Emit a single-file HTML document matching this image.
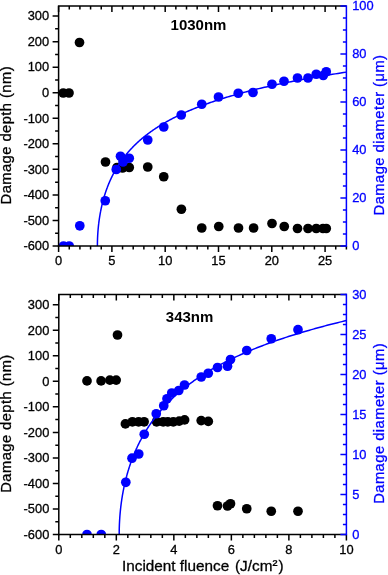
<!DOCTYPE html>
<html><head><meta charset="utf-8"><title>Damage depth and diameter vs incident fluence</title>
<style>html,body{margin:0;padding:0;background:#fff}svg{display:block}text{font-family:"Liberation Sans", Arial, sans-serif;stroke-width:0.3px;paint-order:stroke}</style></head><body>
<svg width="388" height="575" viewBox="0 0 388 575">
<rect width="388" height="575" fill="#fff"/>
<filter id="soft" x="0" y="0" width="388" height="575" filterUnits="userSpaceOnUse"><feGaussianBlur stdDeviation="0.4"/></filter>
<g filter="url(#soft)">
<clipPath id="ct"><rect x="58.60" y="6.10" width="287.80" height="239.90"/></clipPath>
<g fill="#000" clip-path="url(#ct)">
<circle cx="63.25" cy="93.00" r="4.85"/>
<circle cx="69.00" cy="93.00" r="4.85"/>
<circle cx="79.50" cy="42.50" r="4.85"/>
<circle cx="105.50" cy="162.00" r="4.85"/>
<circle cx="117.00" cy="167.50" r="4.85"/>
<circle cx="122.50" cy="168.00" r="4.85"/>
<circle cx="129.25" cy="167.50" r="4.85"/>
<circle cx="147.75" cy="167.00" r="4.85"/>
<circle cx="163.75" cy="176.75" r="4.85"/>
<circle cx="181.40" cy="209.25" r="4.85"/>
<circle cx="201.75" cy="228.00" r="4.85"/>
<circle cx="218.75" cy="226.50" r="4.85"/>
<circle cx="238.50" cy="228.00" r="4.85"/>
<circle cx="253.60" cy="228.00" r="4.85"/>
<circle cx="272.00" cy="223.50" r="4.85"/>
<circle cx="284.25" cy="226.50" r="4.85"/>
<circle cx="297.50" cy="228.50" r="4.85"/>
<circle cx="308.00" cy="228.50" r="4.85"/>
<circle cx="316.25" cy="228.50" r="4.85"/>
<circle cx="323.00" cy="228.50" r="4.85"/>
<circle cx="326.25" cy="228.50" r="4.85"/>
</g>
<path d="M97.40 246.00 L97.40 245.57 L97.40 245.13 L97.40 244.70 L97.41 244.26 L97.41 243.83 L97.42 243.39 L97.42 242.96 L97.43 242.52 L97.44 242.09 L97.45 241.65 L97.46 241.22 L97.47 240.78 L97.48 240.35 L97.50 239.91 L97.51 239.48 L97.52 239.05 L97.54 238.61 L97.56 238.18 L97.58 237.74 L97.59 237.31 L97.61 236.87 L97.64 236.44 L97.66 236.00 L97.68 235.57 L97.70 235.13 L97.73 234.70 L97.76 234.26 L97.78 233.83 L97.81 233.39 L97.84 232.96 L97.87 232.52 L97.90 232.09 L97.93 231.66 L97.97 231.22 L98.00 230.79 L98.03 230.35 L98.07 229.92 L98.11 229.48 L98.15 229.05 L98.19 228.61 L98.23 228.18 L98.27 227.74 L98.31 227.31 L98.35 226.87 L98.40 226.44 L98.44 226.00 L98.49 225.57 L98.54 225.14 L98.58 224.70 L98.63 224.27 L98.68 223.83 L98.74 223.40 L98.79 222.96 L98.84 222.53 L98.90 222.09 L98.95 221.66 L99.01 221.22 L99.07 220.79 L99.13 220.35 L99.19 219.92 L99.25 219.48 L99.31 219.05 L99.38 218.61 L99.44 218.18 L99.51 217.75 L99.58 217.31 L99.64 216.88 L99.71 216.44 L99.78 216.01 L99.86 215.57 L99.93 215.14 L100.00 214.70 L100.08 214.27 L100.15 213.83 L100.23 213.40 L100.31 212.96 L100.39 212.53 L100.47 212.09 L100.55 211.66 L100.64 211.23 L100.72 210.79 L100.81 210.36 L100.90 209.92 L100.98 209.49 L101.07 209.05 L101.17 208.62 L101.26 208.18 L101.35 207.75 L101.45 207.31 L101.54 206.88 L101.64 206.44 L101.74 206.01 L101.84 205.57 L101.94 205.14 L102.04 204.71 L102.15 204.27 L102.25 203.84 L102.36 203.40 L102.47 202.97 L102.58 202.53 L102.69 202.10 L102.80 201.66 L102.91 201.23 L103.03 200.79 L103.14 200.36 L103.26 199.92 L103.38 199.49 L103.50 199.05 L103.62 198.62 L103.75 198.18 L103.87 197.75 L104.00 197.32 L104.13 196.88 L104.26 196.45 L104.39 196.01 L104.52 195.58 L104.66 195.14 L104.79 194.71 L104.93 194.27 L105.07 193.84 L105.21 193.40 L105.35 192.97 L105.49 192.53 L105.64 192.10 L105.79 191.66 L105.93 191.23 L106.08 190.80 L106.24 190.36 L106.39 189.93 L106.55 189.49 L106.70 189.06 L106.86 188.62 L107.02 188.19 L107.18 187.75 L107.35 187.32 L107.51 186.88 L107.68 186.45 L107.85 186.01 L108.02 185.58 L108.19 185.14 L108.37 184.71 L108.55 184.27 L108.72 183.84 L108.91 183.41 L109.09 182.97 L109.27 182.54 L109.46 182.10 L109.65 181.67 L109.84 181.23 L110.03 180.80 L110.22 180.36 L110.42 179.93 L110.62 179.49 L110.82 179.06 L111.02 178.62 L111.23 178.19 L111.43 177.75 L111.64 177.32 L111.85 176.89 L112.07 176.45 L112.28 176.02 L112.50 175.58 L112.72 175.15 L112.94 174.71 L113.16 174.28 L113.39 173.84 L113.62 173.41 L113.85 172.97 L114.09 172.54 L114.32 172.10 L114.56 171.67 L114.80 171.23 L115.04 170.80 L115.29 170.37 L115.54 169.93 L115.79 169.50 L116.04 169.06 L116.30 168.63 L116.56 168.19 L116.82 167.76 L117.08 167.32 L117.35 166.89 L117.62 166.45 L117.89 166.02 L118.16 165.58 L118.44 165.15 L118.72 164.71 L119.00 164.28 L119.29 163.84 L119.58 163.41 L119.87 162.98 L120.17 162.54 L120.46 162.11 L120.76 161.67 L121.07 161.24 L121.37 160.80 L121.68 160.37 L122.00 159.93 L122.31 159.50 L122.63 159.06 L122.95 158.63 L123.28 158.19 L123.61 157.76 L123.94 157.32 L124.28 156.89 L124.62 156.46 L124.96 156.02 L125.30 155.59 L125.65 155.15 L126.01 154.72 L126.36 154.28 L126.72 153.85 L127.09 153.41 L127.45 152.98 L127.82 152.54 L128.20 152.11 L128.58 151.67 L128.96 151.24 L129.34 150.80 L129.73 150.37 L130.13 149.93 L130.53 149.50 L130.93 149.07 L131.33 148.63 L131.75 148.20 L132.16 147.76 L132.58 147.33 L133.00 146.89 L133.43 146.46 L133.86 146.02 L134.29 145.59 L134.74 145.15 L135.18 144.72 L135.63 144.28 L136.08 143.85 L136.54 143.41 L137.00 142.98 L137.47 142.55 L137.94 142.11 L138.42 141.68 L138.90 141.24 L139.39 140.81 L139.88 140.37 L140.38 139.94 L140.88 139.50 L141.39 139.07 L141.90 138.63 L142.42 138.20 L142.95 137.76 L143.47 137.33 L144.01 136.89 L144.55 136.46 L145.09 136.03 L145.64 135.59 L146.20 135.16 L146.76 134.72 L147.33 134.29 L147.91 133.85 L148.49 133.42 L149.07 132.98 L149.66 132.55 L150.26 132.11 L150.87 131.68 L151.48 131.24 L152.10 130.81 L152.72 130.37 L153.35 129.94 L153.99 129.50 L154.63 129.07 L155.28 128.64 L155.94 128.20 L156.60 127.77 L157.27 127.33 L157.95 126.90 L158.64 126.46 L159.33 126.03 L160.03 125.59 L160.74 125.16 L161.45 124.72 L162.18 124.29 L162.91 123.85 L163.64 123.42 L164.39 122.98 L165.14 122.55 L165.91 122.12 L166.68 121.68 L167.45 121.25 L168.24 120.81 L169.04 120.38 L169.84 119.94 L170.65 119.51 L171.47 119.07 L172.30 118.64 L173.14 118.20 L173.99 117.77 L174.85 117.33 L175.71 116.90 L176.59 116.46 L177.48 116.03 L178.37 115.59 L179.28 115.16 L180.19 114.73 L181.12 114.29 L182.05 113.86 L183.00 113.42 L183.95 112.99 L184.92 112.55 L185.89 112.12 L186.88 111.68 L187.88 111.25 L188.89 110.81 L189.91 110.38 L190.94 109.94 L191.98 109.51 L193.04 109.07 L194.11 108.64 L195.18 108.21 L196.28 107.77 L197.38 107.34 L198.49 106.90 L199.62 106.47 L200.76 106.03 L201.91 105.60 L203.08 105.16 L204.26 104.73 L205.45 104.29 L206.66 103.86 L207.88 103.42 L209.11 102.99 L210.36 102.55 L211.62 102.12 L212.90 101.69 L214.19 101.25 L215.49 100.82 L216.81 100.38 L218.15 99.95 L219.50 99.51 L220.86 99.08 L222.24 98.64 L223.64 98.21 L225.06 97.77 L226.49 97.34 L227.93 96.90 L229.39 96.47 L230.87 96.03 L232.37 95.60 L233.89 95.16 L235.42 94.73 L236.97 94.30 L238.54 93.86 L240.12 93.43 L241.73 92.99 L243.35 92.56 L245.00 92.12 L246.66 91.69 L248.34 91.25 L250.04 90.82 L251.77 90.38 L253.51 89.95 L255.27 89.51 L257.06 89.08 L258.86 88.64 L260.69 88.21 L262.54 87.78 L264.41 87.34 L266.30 86.91 L268.21 86.47 L270.15 86.04 L272.11 85.60 L274.10 85.17 L276.11 84.73 L278.14 84.30 L280.20 83.86 L282.28 83.43 L284.39 82.99 L286.53 82.56 L288.68 82.12 L290.87 81.69 L293.08 81.25 L295.32 80.82 L297.59 80.39 L299.88 79.95 L302.21 79.52 L304.56 79.08 L306.94 78.65 L309.35 78.21 L311.79 77.78 L314.26 77.34 L316.76 76.91 L319.29 76.47 L321.85 76.04 L324.44 75.60 L327.07 75.17 L329.73 74.73 L332.42 74.30 L335.15 73.87 L337.91 73.43 L340.70 73.00 L343.53 72.56 L346.40 72.13" fill="none" stroke="#0000ff" stroke-width="1.5" stroke-linejoin="round"/>
<g fill="#0000ff" clip-path="url(#ct)">
<circle cx="63.50" cy="246.00" r="4.85"/>
<circle cx="69.20" cy="246.00" r="4.85"/>
<circle cx="79.80" cy="225.80" r="4.85"/>
<circle cx="105.25" cy="200.75" r="4.85"/>
<circle cx="116.25" cy="169.50" r="4.85"/>
<circle cx="120.50" cy="156.25" r="4.85"/>
<circle cx="123.00" cy="162.00" r="4.85"/>
<circle cx="129.25" cy="158.25" r="4.85"/>
<circle cx="147.75" cy="140.00" r="4.85"/>
<circle cx="163.75" cy="127.00" r="4.85"/>
<circle cx="181.25" cy="115.00" r="4.85"/>
<circle cx="201.75" cy="104.25" r="4.85"/>
<circle cx="218.50" cy="97.00" r="4.85"/>
<circle cx="238.25" cy="93.25" r="4.85"/>
<circle cx="253.00" cy="92.50" r="4.85"/>
<circle cx="272.00" cy="84.25" r="4.85"/>
<circle cx="284.00" cy="81.25" r="4.85"/>
<circle cx="297.50" cy="78.00" r="4.85"/>
<circle cx="308.00" cy="78.00" r="4.85"/>
<circle cx="316.25" cy="74.25" r="4.85"/>
<circle cx="323.25" cy="75.50" r="4.85"/>
<circle cx="326.25" cy="71.75" r="4.85"/>
</g>
<g stroke="#000" stroke-width="1.50" fill="none" stroke-linecap="butt">
<path d="M58.60 246.75 V6.10 H346.40"/>
<path d="M57.85 246.00 H346.40"/>
<path d="M58.60 6.10 v6.00 M58.60 246.00 v6.00 M69.26 6.10 v3.50 M69.26 246.00 v3.50 M79.92 6.10 v3.50 M79.92 246.00 v3.50 M90.58 6.10 v3.50 M90.58 246.00 v3.50 M101.24 6.10 v3.50 M101.24 246.00 v3.50 M111.90 6.10 v6.00 M111.90 246.00 v6.00 M122.56 6.10 v3.50 M122.56 246.00 v3.50 M133.21 6.10 v3.50 M133.21 246.00 v3.50 M143.87 6.10 v3.50 M143.87 246.00 v3.50 M154.53 6.10 v3.50 M154.53 246.00 v3.50 M165.19 6.10 v6.00 M165.19 246.00 v6.00 M175.85 6.10 v3.50 M175.85 246.00 v3.50 M186.51 6.10 v3.50 M186.51 246.00 v3.50 M197.17 6.10 v3.50 M197.17 246.00 v3.50 M207.83 6.10 v3.50 M207.83 246.00 v3.50 M218.49 6.10 v6.00 M218.49 246.00 v6.00 M229.15 6.10 v3.50 M229.15 246.00 v3.50 M239.81 6.10 v3.50 M239.81 246.00 v3.50 M250.47 6.10 v3.50 M250.47 246.00 v3.50 M261.13 6.10 v3.50 M261.13 246.00 v3.50 M271.79 6.10 v6.00 M271.79 246.00 v6.00 M282.44 6.10 v3.50 M282.44 246.00 v3.50 M293.10 6.10 v3.50 M293.10 246.00 v3.50 M303.76 6.10 v3.50 M303.76 246.00 v3.50 M314.42 6.10 v3.50 M314.42 246.00 v3.50 M325.08 6.10 v6.00 M325.08 246.00 v6.00 M335.74 6.10 v3.50 M335.74 246.00 v3.50 M346.40 246.00 v3.50 M58.60 246.00 h-6.00 M58.60 233.23 h-3.50 M58.60 220.46 h-6.00 M58.60 207.68 h-3.50 M58.60 194.91 h-6.00 M58.60 182.14 h-3.50 M58.60 169.37 h-6.00 M58.60 156.59 h-3.50 M58.60 143.82 h-6.00 M58.60 131.05 h-3.50 M58.60 118.28 h-6.00 M58.60 105.51 h-3.50 M58.60 92.73 h-6.00 M58.60 79.96 h-3.50 M58.60 67.19 h-6.00 M58.60 54.42 h-3.50 M58.60 41.64 h-6.00 M58.60 28.87 h-3.50 M58.60 16.10 h-6.00"/>
</g>
<g stroke="#0000ff" stroke-width="1.50" fill="none">
<path d="M346.40 5.35 V246.75"/>
<path d="M346.40 246.00 h-6.00 M346.40 234.00 h-3.50 M346.40 222.01 h-3.50 M346.40 210.01 h-3.50 M346.40 198.02 h-6.00 M346.40 186.03 h-3.50 M346.40 174.03 h-3.50 M346.40 162.03 h-3.50 M346.40 150.04 h-6.00 M346.40 138.05 h-3.50 M346.40 126.05 h-3.50 M346.40 114.06 h-3.50 M346.40 102.06 h-6.00 M346.40 90.06 h-3.50 M346.40 78.07 h-3.50 M346.40 66.07 h-3.50 M346.40 54.08 h-6.00 M346.40 42.09 h-3.50 M346.40 30.09 h-3.50 M346.40 18.09 h-3.50 M346.40 6.10 h-6.00"/>
</g>
<g font-size="12.85" fill="#000" stroke="#000" text-anchor="end">
<text x="49.10" y="250.30">-600</text>
<text x="49.10" y="224.76">-500</text>
<text x="49.10" y="199.21">-400</text>
<text x="49.10" y="173.67">-300</text>
<text x="49.10" y="148.12">-200</text>
<text x="49.10" y="122.58">-100</text>
<text x="49.10" y="97.03">0</text>
<text x="49.10" y="71.49">100</text>
<text x="49.10" y="45.94">200</text>
<text x="49.10" y="20.40">300</text>
</g>
<g font-size="12.85" fill="#000" stroke="#000" text-anchor="middle">
<text x="58.60" y="265.20">0</text>
<text x="111.90" y="265.20">5</text>
<text x="165.19" y="265.20">10</text>
<text x="218.49" y="265.20">15</text>
<text x="271.79" y="265.20">20</text>
<text x="325.08" y="265.20">25</text>
</g>
<g font-size="12.85" fill="#0000ff" stroke="#0000ff" text-anchor="start">
<text x="352.20" y="250.30">0</text>
<text x="352.20" y="202.32">20</text>
<text x="352.20" y="154.34">40</text>
<text x="352.20" y="106.36">60</text>
<text x="352.20" y="58.38">80</text>
<text x="352.20" y="10.40">100</text>
</g>
<text x="198.50" y="29.80" font-size="15" font-weight="bold" fill="#000" text-anchor="middle">1030nm</text>
<text transform="translate(11.40 135.20) rotate(-90)" font-size="14.7" letter-spacing="0.46" fill="#000" stroke="#000" text-anchor="middle">Damage depth (nm)</text>
<text transform="translate(384.10 135.00) rotate(-90)" font-size="14.75" letter-spacing="0.45" fill="#0000ff" stroke="#0000ff" text-anchor="middle">Damage diameter (μm)</text>
<clipPath id="cb"><rect x="58.80" y="294.40" width="287.60" height="240.10"/></clipPath>
<g fill="#000" clip-path="url(#cb)">
<circle cx="87.00" cy="380.90" r="4.85"/>
<circle cx="101.10" cy="380.90" r="4.85"/>
<circle cx="109.90" cy="380.10" r="4.85"/>
<circle cx="116.20" cy="380.10" r="4.85"/>
<circle cx="117.50" cy="335.00" r="4.85"/>
<circle cx="125.40" cy="423.90" r="4.85"/>
<circle cx="132.40" cy="421.80" r="4.85"/>
<circle cx="138.60" cy="421.80" r="4.85"/>
<circle cx="144.10" cy="421.80" r="4.85"/>
<circle cx="156.60" cy="421.80" r="4.85"/>
<circle cx="163.20" cy="421.80" r="4.85"/>
<circle cx="167.80" cy="421.80" r="4.85"/>
<circle cx="173.30" cy="421.80" r="4.85"/>
<circle cx="179.20" cy="421.10" r="4.85"/>
<circle cx="184.60" cy="419.90" r="4.85"/>
<circle cx="201.20" cy="420.60" r="4.85"/>
<circle cx="208.30" cy="421.40" r="4.85"/>
<circle cx="217.50" cy="505.75" r="4.85"/>
<circle cx="227.50" cy="506.00" r="4.85"/>
<circle cx="230.50" cy="503.75" r="4.85"/>
<circle cx="246.75" cy="508.75" r="4.85"/>
<circle cx="271.25" cy="511.25" r="4.85"/>
<circle cx="298.00" cy="511.25" r="4.85"/>
</g>
<path d="M119.20 534.50 L119.20 533.97 L119.20 533.43 L119.20 532.90 L119.21 532.36 L119.21 531.83 L119.22 531.29 L119.22 530.76 L119.23 530.22 L119.24 529.69 L119.25 529.15 L119.27 528.62 L119.28 528.08 L119.30 527.55 L119.31 527.01 L119.33 526.48 L119.35 525.94 L119.37 525.41 L119.39 524.87 L119.41 524.34 L119.43 523.80 L119.46 523.27 L119.48 522.73 L119.51 522.20 L119.54 521.66 L119.57 521.13 L119.60 520.59 L119.63 520.06 L119.66 519.52 L119.69 518.99 L119.73 518.45 L119.76 517.92 L119.80 517.38 L119.84 516.85 L119.88 516.31 L119.92 515.78 L119.96 515.24 L120.01 514.71 L120.05 514.17 L120.10 513.64 L120.15 513.10 L120.19 512.57 L120.24 512.03 L120.30 511.50 L120.35 510.96 L120.40 510.43 L120.46 509.89 L120.51 509.36 L120.57 508.82 L120.63 508.29 L120.69 507.75 L120.75 507.22 L120.81 506.68 L120.87 506.15 L120.94 505.62 L121.00 505.08 L121.07 504.55 L121.14 504.01 L121.21 503.48 L121.28 502.94 L121.35 502.41 L121.43 501.87 L121.50 501.34 L121.58 500.80 L121.66 500.27 L121.74 499.73 L121.82 499.20 L121.90 498.66 L121.98 498.13 L122.07 497.59 L122.15 497.06 L122.24 496.52 L122.33 495.99 L122.42 495.45 L122.51 494.92 L122.60 494.38 L122.70 493.85 L122.79 493.31 L122.89 492.78 L122.99 492.24 L123.09 491.71 L123.19 491.17 L123.29 490.64 L123.39 490.10 L123.50 489.57 L123.61 489.03 L123.71 488.50 L123.82 487.96 L123.93 487.43 L124.05 486.89 L124.16 486.36 L124.28 485.82 L124.39 485.29 L124.51 484.75 L124.63 484.22 L124.75 483.68 L124.88 483.15 L125.00 482.61 L125.13 482.08 L125.25 481.54 L125.38 481.01 L125.51 480.47 L125.65 479.94 L125.78 479.40 L125.92 478.87 L126.05 478.33 L126.19 477.80 L126.33 477.27 L126.47 476.73 L126.62 476.20 L126.76 475.66 L126.91 475.13 L127.06 474.59 L127.21 474.06 L127.36 473.52 L127.51 472.99 L127.67 472.45 L127.82 471.92 L127.98 471.38 L128.14 470.85 L128.30 470.31 L128.47 469.78 L128.63 469.24 L128.80 468.71 L128.97 468.17 L129.14 467.64 L129.31 467.10 L129.49 466.57 L129.66 466.03 L129.84 465.50 L130.02 464.96 L130.20 464.43 L130.38 463.89 L130.57 463.36 L130.76 462.82 L130.95 462.29 L131.14 461.75 L131.33 461.22 L131.52 460.68 L131.72 460.15 L131.92 459.61 L132.12 459.08 L132.32 458.54 L132.53 458.01 L132.73 457.47 L132.94 456.94 L133.15 456.40 L133.37 455.87 L133.58 455.33 L133.80 454.80 L134.02 454.26 L134.24 453.73 L134.46 453.19 L134.69 452.66 L134.92 452.12 L135.15 451.59 L135.38 451.05 L135.61 450.52 L135.85 449.98 L136.09 449.45 L136.33 448.92 L136.57 448.38 L136.82 447.85 L137.06 447.31 L137.31 446.78 L137.57 446.24 L137.82 445.71 L138.08 445.17 L138.34 444.64 L138.60 444.10 L138.86 443.57 L139.13 443.03 L139.40 442.50 L139.67 441.96 L139.94 441.43 L140.22 440.89 L140.50 440.36 L140.78 439.82 L141.07 439.29 L141.35 438.75 L141.64 438.22 L141.94 437.68 L142.23 437.15 L142.53 436.61 L142.83 436.08 L143.13 435.54 L143.44 435.01 L143.75 434.47 L144.06 433.94 L144.37 433.40 L144.69 432.87 L145.01 432.33 L145.33 431.80 L145.66 431.26 L145.98 430.73 L146.32 430.19 L146.65 429.66 L146.99 429.12 L147.33 428.59 L147.67 428.05 L148.02 427.52 L148.37 426.98 L148.72 426.45 L149.08 425.91 L149.44 425.38 L149.80 424.84 L150.16 424.31 L150.53 423.77 L150.90 423.24 L151.28 422.70 L151.66 422.17 L152.04 421.63 L152.43 421.10 L152.81 420.57 L153.21 420.03 L153.60 419.50 L154.00 418.96 L154.41 418.43 L154.81 417.89 L155.22 417.36 L155.64 416.82 L156.05 416.29 L156.47 415.75 L156.90 415.22 L157.33 414.68 L157.76 414.15 L158.20 413.61 L158.64 413.08 L159.08 412.54 L159.53 412.01 L159.98 411.47 L160.44 410.94 L160.90 410.40 L161.36 409.87 L161.83 409.33 L162.30 408.80 L162.78 408.26 L163.26 407.73 L163.74 407.19 L164.23 406.66 L164.73 406.12 L165.23 405.59 L165.73 405.05 L166.24 404.52 L166.75 403.98 L167.26 403.45 L167.78 402.91 L168.31 402.38 L168.84 401.84 L169.37 401.31 L169.91 400.77 L170.46 400.24 L171.01 399.70 L171.56 399.17 L172.12 398.63 L172.68 398.10 L173.25 397.56 L173.83 397.03 L174.41 396.49 L174.99 395.96 L175.58 395.42 L176.18 394.89 L176.78 394.35 L177.38 393.82 L177.99 393.28 L178.61 392.75 L179.23 392.22 L179.86 391.68 L180.49 391.15 L181.13 390.61 L181.78 390.08 L182.43 389.54 L183.08 389.01 L183.75 388.47 L184.41 387.94 L185.09 387.40 L185.77 386.87 L186.46 386.33 L187.15 385.80 L187.85 385.26 L188.55 384.73 L189.27 384.19 L189.98 383.66 L190.71 383.12 L191.44 382.59 L192.18 382.05 L192.92 381.52 L193.68 380.98 L194.43 380.45 L195.20 379.91 L195.97 379.38 L196.75 378.84 L197.54 378.31 L198.33 377.77 L199.13 377.24 L199.94 376.70 L200.76 376.17 L201.58 375.63 L202.41 375.10 L203.25 374.56 L204.10 374.03 L204.95 373.49 L205.81 372.96 L206.68 372.42 L207.56 371.89 L208.45 371.35 L209.34 370.82 L210.25 370.28 L211.16 369.75 L212.08 369.21 L213.01 368.68 L213.94 368.14 L214.89 367.61 L215.84 367.07 L216.81 366.54 L217.78 366.00 L218.76 365.47 L219.75 364.93 L220.75 364.40 L221.76 363.87 L222.78 363.33 L223.81 362.80 L224.85 362.26 L225.89 361.73 L226.95 361.19 L228.02 360.66 L229.10 360.12 L230.19 359.59 L231.28 359.05 L232.39 358.52 L233.51 357.98 L234.64 357.45 L235.78 356.91 L236.93 356.38 L238.10 355.84 L239.27 355.31 L240.46 354.77 L241.65 354.24 L242.86 353.70 L244.08 353.17 L245.31 352.63 L246.55 352.10 L247.81 351.56 L249.08 351.03 L250.36 350.49 L251.65 349.96 L252.95 349.42 L254.27 348.89 L255.60 348.35 L256.94 347.82 L258.30 347.28 L259.66 346.75 L261.05 346.21 L262.44 345.68 L263.85 345.14 L265.27 344.61 L266.71 344.07 L268.16 343.54 L269.63 343.00 L271.11 342.47 L272.60 341.93 L274.11 341.40 L275.63 340.86 L277.17 340.33 L278.73 339.79 L280.30 339.26 L281.88 338.72 L283.48 338.19 L285.10 337.65 L286.73 337.12 L288.38 336.58 L290.05 336.05 L291.73 335.52 L293.43 334.98 L295.14 334.45 L296.88 333.91 L298.63 333.38 L300.39 332.84 L302.18 332.31 L303.98 331.77 L305.80 331.24 L307.65 330.70 L309.50 330.17 L311.38 329.63 L313.28 329.10 L315.19 328.56 L317.13 328.03 L319.08 327.49 L321.06 326.96 L323.06 326.42 L325.07 325.89 L327.11 325.35 L329.16 324.82 L331.24 324.28 L333.34 323.75 L335.46 323.21 L337.61 322.68 L339.77 322.14 L341.96 321.61 L344.17 321.07 L346.40 320.54" fill="none" stroke="#0000ff" stroke-width="1.5" stroke-linejoin="round"/>
<g fill="#0000ff" clip-path="url(#cb)">
<circle cx="87.00" cy="534.50" r="4.85"/>
<circle cx="101.25" cy="534.50" r="4.85"/>
<circle cx="125.80" cy="482.30" r="4.85"/>
<circle cx="132.00" cy="458.20" r="4.85"/>
<circle cx="138.75" cy="454.00" r="4.85"/>
<circle cx="144.25" cy="434.25" r="4.85"/>
<circle cx="156.25" cy="413.75" r="4.85"/>
<circle cx="163.75" cy="405.75" r="4.85"/>
<circle cx="167.00" cy="398.75" r="4.85"/>
<circle cx="171.75" cy="393.00" r="4.85"/>
<circle cx="178.75" cy="390.50" r="4.85"/>
<circle cx="184.50" cy="385.00" r="4.85"/>
<circle cx="201.25" cy="377.00" r="4.85"/>
<circle cx="208.25" cy="373.25" r="4.85"/>
<circle cx="217.50" cy="367.50" r="4.85"/>
<circle cx="227.50" cy="366.25" r="4.85"/>
<circle cx="230.50" cy="359.50" r="4.85"/>
<circle cx="246.75" cy="350.50" r="4.85"/>
<circle cx="271.25" cy="338.75" r="4.85"/>
<circle cx="298.00" cy="329.70" r="4.85"/>
</g>
<g stroke="#000" stroke-width="1.50" fill="none" stroke-linecap="butt">
<path d="M58.80 535.25 V294.40 H346.40"/>
<path d="M58.05 534.50 H346.40"/>
<path d="M58.80 294.40 v6.00 M58.80 534.50 v6.00 M70.30 294.40 v3.50 M70.30 534.50 v3.50 M81.81 294.40 v3.50 M81.81 534.50 v3.50 M93.31 294.40 v3.50 M93.31 534.50 v3.50 M104.82 294.40 v3.50 M104.82 534.50 v3.50 M116.32 294.40 v6.00 M116.32 534.50 v6.00 M127.82 294.40 v3.50 M127.82 534.50 v3.50 M139.33 294.40 v3.50 M139.33 534.50 v3.50 M150.83 294.40 v3.50 M150.83 534.50 v3.50 M162.34 294.40 v3.50 M162.34 534.50 v3.50 M173.84 294.40 v6.00 M173.84 534.50 v6.00 M185.34 294.40 v3.50 M185.34 534.50 v3.50 M196.85 294.40 v3.50 M196.85 534.50 v3.50 M208.35 294.40 v3.50 M208.35 534.50 v3.50 M219.86 294.40 v3.50 M219.86 534.50 v3.50 M231.36 294.40 v6.00 M231.36 534.50 v6.00 M242.86 294.40 v3.50 M242.86 534.50 v3.50 M254.37 294.40 v3.50 M254.37 534.50 v3.50 M265.87 294.40 v3.50 M265.87 534.50 v3.50 M277.38 294.40 v3.50 M277.38 534.50 v3.50 M288.88 294.40 v6.00 M288.88 534.50 v6.00 M300.38 294.40 v3.50 M300.38 534.50 v3.50 M311.89 294.40 v3.50 M311.89 534.50 v3.50 M323.39 294.40 v3.50 M323.39 534.50 v3.50 M334.90 294.40 v3.50 M334.90 534.50 v3.50 M346.40 534.50 v6.00 M58.80 534.50 h-6.00 M58.80 521.74 h-3.50 M58.80 508.97 h-6.00 M58.80 496.21 h-3.50 M58.80 483.44 h-6.00 M58.80 470.68 h-3.50 M58.80 457.92 h-6.00 M58.80 445.15 h-3.50 M58.80 432.39 h-6.00 M58.80 419.62 h-3.50 M58.80 406.86 h-6.00 M58.80 394.10 h-3.50 M58.80 381.33 h-6.00 M58.80 368.57 h-3.50 M58.80 355.81 h-6.00 M58.80 343.04 h-3.50 M58.80 330.28 h-6.00 M58.80 317.51 h-3.50 M58.80 304.75 h-6.00"/>
</g>
<g stroke="#0000ff" stroke-width="1.50" fill="none">
<path d="M346.40 293.65 V535.25"/>
<path d="M346.40 534.50 h-6.00 M346.40 524.50 h-3.50 M346.40 514.49 h-3.50 M346.40 504.49 h-3.50 M346.40 494.48 h-6.00 M346.40 484.48 h-3.50 M346.40 474.48 h-3.50 M346.40 464.47 h-3.50 M346.40 454.47 h-6.00 M346.40 444.46 h-3.50 M346.40 434.46 h-3.50 M346.40 424.45 h-3.50 M346.40 414.45 h-6.00 M346.40 404.45 h-3.50 M346.40 394.44 h-3.50 M346.40 384.44 h-3.50 M346.40 374.43 h-6.00 M346.40 364.43 h-3.50 M346.40 354.42 h-3.50 M346.40 344.42 h-3.50 M346.40 334.42 h-6.00 M346.40 324.41 h-3.50 M346.40 314.41 h-3.50 M346.40 304.40 h-3.50 M346.40 294.40 h-6.00"/>
</g>
<g font-size="12.85" fill="#000" stroke="#000" text-anchor="end">
<text x="49.30" y="538.80">-600</text>
<text x="49.30" y="513.27">-500</text>
<text x="49.30" y="487.74">-400</text>
<text x="49.30" y="462.22">-300</text>
<text x="49.30" y="436.69">-200</text>
<text x="49.30" y="411.16">-100</text>
<text x="49.30" y="385.63">0</text>
<text x="49.30" y="360.11">100</text>
<text x="49.30" y="334.58">200</text>
<text x="49.30" y="309.05">300</text>
</g>
<g font-size="12.85" fill="#000" stroke="#000" text-anchor="middle">
<text x="58.80" y="553.70">0</text>
<text x="116.32" y="553.70">2</text>
<text x="173.84" y="553.70">4</text>
<text x="231.36" y="553.70">6</text>
<text x="288.88" y="553.70">8</text>
<text x="346.40" y="553.70">10</text>
</g>
<g font-size="12.85" fill="#0000ff" stroke="#0000ff" text-anchor="start">
<text x="352.20" y="538.80">0</text>
<text x="352.20" y="498.78">5</text>
<text x="352.20" y="458.77">10</text>
<text x="352.20" y="418.75">15</text>
<text x="352.20" y="378.73">20</text>
<text x="352.20" y="338.72">25</text>
<text x="352.20" y="298.70">30</text>
</g>
<text x="189.60" y="322.30" font-size="15" font-weight="bold" fill="#000" text-anchor="middle">343nm</text>
<text transform="translate(11.40 423.50) rotate(-90)" font-size="14.7" letter-spacing="0.46" fill="#000" stroke="#000" text-anchor="middle">Damage depth (nm)</text>
<text transform="translate(384.10 423.40) rotate(-90)" font-size="14.75" letter-spacing="0.45" fill="#0000ff" stroke="#0000ff" text-anchor="middle">Damage diameter (μm)</text>
<text y="571.3" font-size="15.3" fill="#000" stroke="#000"><tspan x="122.0">Incident fluence</tspan> <tspan x="235.0">(J/cm</tspan><tspan x="272.4" font-size="15" dy="-1.4">²</tspan><tspan x="278.6" dy="1.4">)</tspan></text>
</g></svg></body></html>
